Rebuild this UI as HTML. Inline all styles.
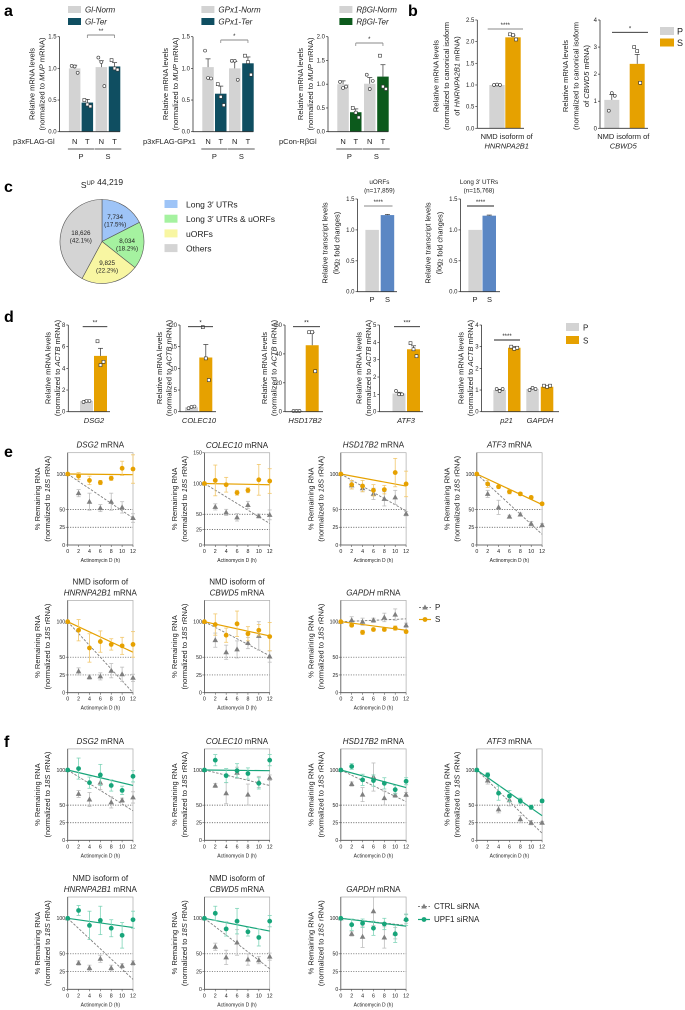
<!DOCTYPE html>
<html><head><meta charset="utf-8">
<style>
html,body{margin:0;padding:0;background:#fff;}
svg{display:block;font-family:"Liberation Sans",Arial,sans-serif;}
</style></head>
<body>
<svg id="fig" width="685" height="1010" viewBox="0 0 685 1010" xmlns="http://www.w3.org/2000/svg">
<rect width="685" height="1010" fill="#fff"/>
<g font-weight="bold" font-size="16" fill="#000">
<text x="4" y="16">a</text>
<text x="408" y="16">b</text>
<text x="4" y="192">c</text>
<text x="4" y="322">d</text>
<text x="4" y="457">e</text>
<text x="4" y="747">f</text>
</g>
</svg>
<script>
// ---------- data: panel a ----------
const a1Means = [1.0, 0.46, 1.02, 1.03];
const a1Errs = [0.05, 0.05, 0.1, 0.06];
const a1Dots = [[1.04,1.03,0.93],[0.5,0.43,0.4],[1.17,1.1,0.72],[1.13,1.0,0.98]];
const a2Means = [1.02, 0.6, 1.0, 1.08];
const a2Errs = [0.13, 0.12, 0.11, 0.1];
const a2Dots = [[1.28,0.85,0.84],[0.75,0.55,0.42],[1.12,1.12,0.82],[1.2,1.1,0.9]];
const a3Means = [1.0, 0.41, 1.01, 1.16];
const a3Errs = [0.07, 0.07, 0.13, 0.25];
const a3Dots = [[1.05,0.92,0.95],[0.5,0.4,0.3],[1.2,0.9,1.07],[1.6,0.95,0.9]];
const aCats = ['N','T','N','T'];
const aTicks15 = [0, 0.5, 1.0, 1.5];
const aTickLabels15 = ['0.0','0.5','1.0','1.5'];
const aTicks20 = [0, 0.5, 1.0, 1.5, 2.0];
const aTickLabels20 = ['0.0','0.5','1.0','1.5','2.0'];
// ---------- data: panel b ----------
const b1Means = [1.0, 2.1];
const b1Errs = [0.01, 0.05];
const b1Dots = [[1.0,1.01,1.0],[2.17,2.15,2.05]];
const b1Ticks = [0,0.5,1.0,1.5,2.0,2.5];
const b1TickLabels = ['0.0','0.5','1.0','1.5','2.0','2.5'];
const b2Means = [1.05, 2.38];
const b2Errs = [0.2, 0.35];
const b2Dots = [[0.65,1.3,1.2],[3.0,2.85,1.68]];
const b2Ticks = [0,1,2,3,4];
const b2TickLabels = ['0','1','2','3','4'];
// ---------- data: panel c ----------
const cPieLabels = ['Long 3\u2032 UTRs','Long 3\u2032 UTRs & uORFs','uORFs','Others'];
const cPieValues = [7734, 8034, 9825, 18626];
const cPieText = ['7,734','8,034','9,825','18,626'];
const cPiePct = ['(17.5%)','(18.2%)','(22.2%)','(42.1%)'];
const c1Means = [1.0, 1.24];
const c2Means = [1.0, 1.23];
const cErrs = [0, 0.01];
const cTicks = [0,0.5,1.0,1.5];
const cTickLabels = ['0.0','0.5','1.0','1.5'];
// ---------- data: panel d ----------
const d1Means = [1.0, 5.15]; const d1Errs = [0.05, 0.7]; const d1Dots = [[0.9,1.0,1.0],[6.5,4.3,4.6]];
const d2Means = [1.0, 12.5]; const d2Errs = [0.1, 3.0]; const d2Dots = [[0.8,1.1,1.2],[19.5,12.3,7.3]];
const d3Means = [0.5, 46]; const d3Errs = [0.1, 9]; const d3Dots = [[0.5,0.5,0.5],[55,55,28]];
const d4Means = [1.05, 3.6]; const d4Errs = [0.07, 0.2]; const d4Dots = [[1.2,1.0,1.0],[3.95,3.6,3.2]];
const d5Means = [1.0, 2.95, 1.05, 1.15]; const d5Errs = [0.03, 0.05, 0.03, 0.03];
const d5Dots = [[1.05,0.95,1.05],[3.0,2.9,2.95],[1.0,1.1,1.05],[1.2,1.15,1.2]];
const d1Ticks = [0,2,4,6,8]; const d2Ticks = [0,5,10,15,20]; const d3Ticks = [0,20,40,60];
const d4Ticks = [0,1,2,3,4,5]; const d5Ticks = [0,1,2,3,4];
// ---------- data: decay panels e / f ----------
const decayTimes = [0,2,4,6,8,10,12];
const decayXTicks = [0,2,4,6,8,10,12];
const eDsg2S = [100,97,91,88,94,108,107]; const eDsg2SErr = [0,5,6,3,3,10,20];
const eDsg2P = [100,73,61,52,61,53,38]; const eDsg2PErr = [0,5,12,5,12,8,6];
const eDsg2SFit = [100,99]; const eDsg2PFit = [100,38];
const eCol10S = [100,105,98,85,89,106,104]; const eCol10SErr = [0,25,12,4,4,25,20];
const eCol10P = [100,62,53,45,65,47,49]; const eCol10PErr = [0,5,5,6,6,3,8];
const eCol10SFit = [100,98]; const eCol10PFit = [100,35];
const eHsdS = [100,85,83,77,78,102,86]; const eHsdSErr = [0,6,8,8,6,20,18];
const eHsdP = [100,84,80,72,65,67,44]; const eHsdPErr = [0,5,5,8,10,10,3];
const eHsdSFit = [100,83]; const eHsdPFit = [100,48];
const eAtf3S = [100,86,82,75,72,67,58]; const eAtf3SErr = [0,5,2,3,2,2,2];
const eAtf3P = [100,72,53,40,43,30,28]; const eAtf3PErr = [0,5,10,2,2,3,2];
const eAtf3SFit = [100,57]; const eAtf3PFit = [100,15];
const eHnrS = [100,88,63,72,68,66,68]; const eHnrSErr = [0,15,20,15,8,12,18];
const eHnrP = [100,30,22,23,31,26,21]; const eHnrPErr = [0,5,3,5,10,10,5];
const eHnrSFit = [100,57]; const eHnrPFit = [100,0];
const eCbwS = [100,96,81,97,83,88,79]; const eCbwSErr = [0,15,10,18,10,8,20];
const eCbwP = [100,74,57,61,70,80,51]; const eCbwPErr = [0,10,10,12,8,20,8];
const eCbwSFit = [100,80]; const eCbwPFit = [100,52];
const eGapS = [100,95,85,89,89,91,86]; const eGapSErr = [0,2,3,2,2,3,2];
const eGapP = [100,102,100,102,106,110,95]; const eGapPErr = [0,5,5,3,6,8,3];
const eGapSFit = [100,88]; const eGapPFit = [100,104];
const fDsg2U = [100,102,82,93,78,71,91]; const fDsg2UErr = [0,15,8,15,8,6,8];
const fDsg2C = [100,66,58,82,54,57,61]; const fDsg2CErr = [0,5,10,10,8,3,8];
const fDsg2UFit = [100,78]; const fDsg2CFit = [100,42];
const fCol10U = [100,114,92,99,95,81,114]; const fCol10UErr = [0,8,10,10,8,8,8];
const fCol10C = [100,78,67,96,65,83,89]; const fCol10CErr = [0,3,15,8,15,8,4];
const fCol10UFit = [100,99]; const fCol10CFit = [100,78];
const fHsdU = [100,105,86,85,81,72,84]; const fHsdUErr = [0,4,8,8,8,6,5];
const fHsdC = [100,80,65,90,60,64,65]; const fHsdCErr = [0,3,10,20,10,3,3];
const fHsdUFit = [100,75]; const fHsdCFit = [100,55];
const fAtf3U = [100,93,67,63,56,47,56]; const fAtf3UErr = [0,3,10,8,4,3,2];
const fAtf3C = [100,85,44,57,30,25,25]; const fAtf3CErr = [0,5,5,8,5,3,2];
const fAtf3UFit = [100,35]; const fAtf3CFit = [100,10];
const fHnrU = [100,111,90,97,86,76,98]; const fHnrUErr = [0,7,20,20,12,18,12];
const fHnrC = [100,37,30,43,30,33,37]; const fHnrCErr = [0,3,4,5,4,3,3];
const fHnrUFit = [100,87]; const fHnrCFit = [100,14];
const fCbwU = [100,107,85,96,81,73,96]; const fCbwUErr = [0,10,10,18,6,12,8];
const fCbwC = [100,60,45,66,42,41,46]; const fCbwCErr = [0,5,10,18,8,5,5];
const fCbwUFit = [100,82]; const fCbwCFit = [100,29];
const fGapU = [100,91,93,86,92,78,98]; const fGapUErr = [0,8,6,10,8,12,8];
const fGapC = [100,78,74,110,73,79,99]; const fGapCErr = [0,3,15,20,15,8,6];
const fGapUFit = [100,89]; const fGapCFit = [100,90];

// ---------- helpers ----------
const NS = 'http://www.w3.org/2000/svg';
const svg = document.getElementById('fig');
function mk(tag, attrs, parent, name, inter) {
  const el = document.createElementNS(NS, tag);
  for (const k in attrs) el.setAttribute(k, attrs[k]);
  
  
  (parent || svg).appendChild(el);
  return el;
}
function txt(x, y, s, o, parent, name) {
  o = o || {};
  const el = mk('text', {x: x, y: y, 'font-size': o.size || 6, 'text-anchor': o.anchor || 'start', fill: o.fill || '#222'}, parent, name, false);
  if (o.italic) el.setAttribute('font-style', 'italic');
  if (o.rot) el.setAttribute('transform', 'rotate(-90 ' + x + ' ' + y + ')');
  if (Array.isArray(s)) {
    s.forEach(p => { const t = document.createElementNS(NS, 'tspan'); if (p.i) t.setAttribute('font-style', 'italic'); if (p.sub) {t.setAttribute('font-size', (o.size||6)*0.7); t.setAttribute('dy','1');} if (p.sup) {t.setAttribute('font-size', (o.size||6)*0.7); t.setAttribute('dy','-3');} t.textContent = p.t; el.appendChild(t); });
  } else el.textContent = s;
  return el;
}
function line(x1, y1, x2, y2, stroke, w, parent, name, dash) {
  const l = mk('line', {x1: x1, y1: y1, x2: x2, y2: y2, stroke: stroke, 'stroke-width': w}, parent, name, false);
  if (dash) l.setAttribute('stroke-dasharray', dash);
  return l;
}

// ---------- bar chart ----------
function barPanel(o) {
  const g = mk('g', {}, svg, o.name, false);
  const y = v => o.y0 - v / o.max * (o.y0 - o.yTop);
  o.means.forEach((m, i) => {
    const bx = o.barX[i], w = o.w;
    mk('rect', {x: bx, y: y(m), width: w, height: o.y0 - y(m), fill: o.colors[i]}, g, o.name + '-bar-' + i, true);
    if (o.errs && o.errs[i] > 0) {
      const cx = bx + w / 2;
      line(cx, y(m), cx, y(m + o.errs[i]), '#333', 0.7, g, 'error-bar');
      line(cx - 2.5, y(m + o.errs[i]), cx + 2.5, y(m + o.errs[i]), '#333', 0.7, g, 'error-cap');
    }
    if (o.dots) {
      const offs = [-3, 0, 3];
      o.dots[i].forEach((d, j) => {
        const cx = bx + w / 2 + offs[j];
        if (o.colors[i] === '#d3d3d3') mk('circle', {cx: cx, cy: y(d), r: 1.5, fill: '#fff', stroke: '#333', 'stroke-width': 0.6}, g, 'data-point', false);
        else mk('rect', {x: cx - 1.5, y: y(d) - 1.5, width: 3, height: 3, fill: '#fff', stroke: '#333', 'stroke-width': 0.6}, g, 'data-point', false);
      });
    }
  });
  line(o.ax, o.y0, o.ax, o.yTop, '#333', 0.8, g, 'y-axis');
  line(o.ax, o.y0, o.axEnd, o.y0, '#333', 0.8, g, 'x-axis');
  o.ticks.forEach((t, i) => {
    line(o.ax - 2, y(t), o.ax, y(t), '#333', 0.7, g, 'y-tick');
    txt(o.ax - 3, y(t) + 2, o.tickLabels[i], {size: 6, anchor: 'end'}, g, 'y-tick-label');
  });
  if (o.ytitle) o.ytitle.forEach((ln, i) => txt(o.ax + o.ytOff[i], o.ytY, ln, {size: 7.5, anchor: 'middle', rot: true}, g, 'y-axis-title'));
  if (o.sig) {
    const s = o.sig;
    line(s.x1, s.y, s.x2, s.y, s.gray ? '#888' : '#222', 0.9, g, 'significance-bracket');
    if (s.ticks) { line(s.x1, s.y, s.x1, s.y + 3, '#888', 0.8, g, 'bracket-tick'); line(s.x2, s.y, s.x2, s.y + 3, '#888', 0.8, g, 'bracket-tick'); }
    txt((s.x1 + s.x2) / 2, s.y - 2, s.label, {size: 6, anchor: 'middle'}, g, 'significance-label');
  }
  return g;
}
const GR = '#d3d3d3', OR = '#e6a100', TEAL = '#0f4e61', DG = '#0c5a1c', BL = '#5b87c4';

// ---------- panel a ----------
function aPanel(off, means, errs, dots, color, ticks, labels, max, label, legend, sigY) {
  const ax = 59.6 + off;
  const bx = [68.9 + off, 81.6 + off, 95.6 + off, 108.8 + off];
  barPanel({name: 'panel-a-chart-' + legend[0], ax: ax, axEnd: 120 + off, y0: 131.7, yTop: 36.7, max: max, ticks: ticks, tickLabels: labels,
    means: means, errs: errs, dots: dots, barX: bx, w: 11.5, colors: [GR, color, GR, color],
    ytitle: ['Relative mRNA levels', [{t: '(normalized to '}, {t: 'MUP', i: 1}, {t: ' mRNA)'}]], ytOff: [-25, -15], ytY: 84,
    sig: {x1: bx[1] + 5.75, x2: bx[3] + 5.75, y: sigY, label: max === 2 || off > 0 ? '*' : '**', ticks: true, gray: true}});
  mk('rect', {x: 68 + off + (off > 200 ? 3 : 0), y: 6, width: 13, height: 7, fill: GR}, svg, 'legend-swatch-norm', false);
  mk('rect', {x: 68 + off + (off > 200 ? 3 : 0), y: 18, width: 13, height: 7, fill: color}, svg, 'legend-swatch-ter', false);
  txt(85 + off + (off > 200 ? 3 : 0), 12.5, legend[1], {size: 8, italic: true}, svg, 'legend-label-norm');
  txt(85 + off + (off > 200 ? 3 : 0), 24.5, legend[2], {size: 8, italic: true}, svg, 'legend-label-ter');
  txt(label[1] , 144, label[0], {size: 7.5}, svg, 'construct-label');
  bx.forEach((b, i) => txt(b + 5.75, 144, aCats[i], {size: 7.5, anchor: 'middle'}, svg, 'condition-label'));
  line(bx[0] - 1, 149, bx[1] + 12.5, 149, '#222', 0.8, svg, 'group-line-p');
  line(bx[2] - 1, 149, bx[3] + 12.5, 149, '#222', 0.8, svg, 'group-line-s');
  txt((bx[0] + bx[1] + 11.5) / 2, 159, 'P', {size: 7.5, anchor: 'middle'}, svg, 'group-label-p');
  txt((bx[2] + bx[3] + 11.5) / 2, 159, 'S', {size: 7.5, anchor: 'middle'}, svg, 'group-label-s');
}
aPanel(0, a1Means, a1Errs, a1Dots, TEAL, aTicks15, aTickLabels15, 1.5, ['p3xFLAG-Gl', 13], ['gl', 'Gl-Norm', 'Gl-Ter'], 35);
aPanel(133.4, a2Means, a2Errs, a2Dots, TEAL, aTicks15, aTickLabels15, 1.5, ['p3xFLAG-GPx1', 143], ['gpx1', 'GPx1-Norm', 'GPx1-Ter'], 40);
aPanel(268.4, a3Means, a3Errs, a3Dots, DG, aTicks20, aTickLabels20, 2.0, ['pCon-R\u03b2Gl', 279], ['rbgl', 'R\u03b2Gl-Norm', 'R\u03b2Gl-Ter'], 43);

// ---------- panel b ----------
barPanel({name: 'panel-b-hnrnpa2b1', ax: 477.3, axEnd: 524, y0: 128.3, yTop: 20, max: 2.5, ticks: b1Ticks, tickLabels: b1TickLabels,
  means: b1Means, errs: b1Errs, dots: b1Dots, barX: [489.3, 505.3], w: 15.4, colors: [GR, OR],
  ytitle: ['Relative mRNA levels', '(normalized to canonical isoform', [{t: 'of '}, {t: 'HNRNPA2B1', i: 1}, {t: ' mRNA)'}]], ytOff: [-39, -28.5, -18], ytY: 76,
  sig: {x1: 487.7, x2: 523, y: 29, label: '****', gray: true}});
txt(506.7, 139, 'NMD isoform of', {size: 7.5, anchor: 'middle'}, svg, 'x-label');
txt(506.7, 148.5, 'HNRNPA2B1', {size: 7.5, anchor: 'middle', italic: true}, svg, 'x-label-gene');
barPanel({name: 'panel-b-cbwd5', ax: 600, axEnd: 648, y0: 128.3, yTop: 20, max: 4, ticks: b2Ticks, tickLabels: b2TickLabels,
  means: b2Means, errs: b2Errs, dots: b2Dots, barX: [604.3, 629.7], w: 15, colors: [GR, OR],
  ytitle: ['Relative mRNA levels', '(normalized to canonical isoform', [{t: 'of '}, {t: 'CBWD5', i: 1}, {t: ' mRNA)'}]], ytOff: [-32, -21.5, -11], ytY: 76,
  sig: {x1: 612, x2: 648, y: 32.3, label: '*'}});
txt(623.3, 139, 'NMD isoform of', {size: 7.5, anchor: 'middle'}, svg, 'x-label');
txt(623.3, 148.5, 'CBWD5', {size: 7.5, anchor: 'middle', italic: true}, svg, 'x-label-gene');
mk('rect', {x: 660, y: 27, width: 14, height: 8, fill: GR}, svg, 'legend-swatch-p', false);
mk('rect', {x: 660, y: 38.5, width: 14, height: 8, fill: OR}, svg, 'legend-swatch-s', false);
txt(677, 34.5, 'P', {size: 9}, svg, 'legend-label-p');
txt(677, 46, 'S', {size: 9}, svg, 'legend-label-s');

// ---------- panel c: pie ----------
(function () {
  const cx = 102, cy = 241.5, r = 42;
  const cols = ['#9ec4f7', '#a5f2a0', '#f8f6a2', '#d4d4d4'];
  const total = cPieValues.reduce((a, b) => a + b, 0);
  let a0 = -Math.PI / 2;
  const g = mk('g', {}, svg, 'pie-chart', false);
  cPieValues.forEach((v, i) => {
    const a1 = a0 + v / total * 2 * Math.PI;
    const large = a1 - a0 > Math.PI ? 1 : 0;
    const d = 'M' + cx + ',' + cy + ' L' + (cx + r * Math.cos(a0)) + ',' + (cy + r * Math.sin(a0)) + ' A' + r + ',' + r + ' 0 ' + large + ' 1 ' + (cx + r * Math.cos(a1)) + ',' + (cy + r * Math.sin(a1)) + ' Z';
    mk('path', {d: d, fill: cols[i], stroke: '#555', 'stroke-width': 0.6}, g, 'pie-slice-' + i, true);
    const am = (a0 + a1) / 2, lr = i === 3 ? 0.52 * r : 0.6 * r;
    txt(cx + lr * Math.cos(am), cy + lr * Math.sin(am) - 1, cPieText[i], {size: 6.3, anchor: 'middle'}, g, 'pie-value-label');
    txt(cx + lr * Math.cos(am), cy + lr * Math.sin(am) + 6.5, cPiePct[i], {size: 6.3, anchor: 'middle'}, g, 'pie-percent-label');
    mk('rect', {x: 164.5, y: 200 + i * 14.7, width: 13, height: 8, fill: cols[i]}, svg, 'pie-legend-swatch', false);
    txt(186, 207.5 + i * 14.7, cPieLabels[i], {size: 8.5}, svg, 'pie-legend-label');
    a0 = a1;
  });
  txt(cx, 188, [{t: 'S'}, {t: 'UP', sup: 1}, {t: ' 44,219', sub: 0}], {size: 8.5, anchor: 'middle'}, svg, 'pie-title');
})();
barPanel({name: 'panel-c-uorfs', ax: 357.5, axEnd: 397, y0: 291.7, yTop: 199, max: 1.5, ticks: cTicks, tickLabels: cTickLabels,
  means: c1Means, errs: cErrs, barX: [365.4, 380.7], w: 13.5, colors: [GR, BL],
  ytitle: ['Relative transcript levels', [{t: '(log'}, {t: '2', sub: 1}, {t: ' fold changes)'}]], ytOff: [-30, -19], ytY: 243,
  sig: {x1: 364, x2: 392.5, y: 206, label: '****', gray: true}});
txt(379.4, 184, 'uORFs', {size: 6.3, anchor: 'middle'}, svg, 'chart-title');
txt(379.4, 192.5, '(n=17,859)', {size: 6.3, anchor: 'middle'}, svg, 'chart-subtitle');
txt(372, 302, 'P', {size: 7.5, anchor: 'middle'}, svg, 'x-label'); txt(387.5, 302, 'S', {size: 7.5, anchor: 'middle'}, svg, 'x-label');
barPanel({name: 'panel-c-long-3utrs', ax: 460.5, axEnd: 500, y0: 291.7, yTop: 199, max: 1.5, ticks: cTicks, tickLabels: cTickLabels,
  means: c2Means, errs: cErrs, barX: [468.4, 482.5], w: 13.5, colors: [GR, BL],
  ytitle: ['Relative transcript levels', [{t: '(log'}, {t: '2', sub: 1}, {t: ' fold changes)'}]], ytOff: [-30, -19], ytY: 243,
  sig: {x1: 467, x2: 494, y: 206, label: '****'}});
txt(479, 184, 'Long 3\u2032 UTRs', {size: 6.3, anchor: 'middle'}, svg, 'chart-title');
txt(479, 192.5, '(n=15,768)', {size: 6.3, anchor: 'middle'}, svg, 'chart-subtitle');
txt(475, 302, 'P', {size: 7.5, anchor: 'middle'}, svg, 'x-label'); txt(489.5, 302, 'S', {size: 7.5, anchor: 'middle'}, svg, 'x-label');

// ---------- panel d ----------
function dPanel(name, ax, end, bx, w, means, errs, dots, ticks, max, sig, genes, cols) {
  barPanel({name: name, ax: ax, axEnd: end, y0: 411.7, yTop: 325, max: max, ticks: ticks, tickLabels: ticks.map(String),
    means: means, errs: errs, dots: dots, barX: bx, w: w, colors: cols || [GR, OR],
    ytitle: ['Relative mRNA levels', [{t: '(normalized to '}, {t: 'ACTB', i: 1}, {t: ' mRNA)'}]], ytOff: [-18, -8.5], ytY: 368, sig: sig});
  genes.forEach(gn => txt(gn[1], 423, gn[0], {size: 7.5, anchor: 'middle', italic: true}, svg, 'gene-label'));
}
dPanel('panel-d-dsg2', 68.3, 110, [80, 94], 13, d1Means, d1Errs, d1Dots, d1Ticks, 8, {x1: 82.7, x2: 107.3, y: 326.7, label: '**'}, [['DSG2', 94]]);
dPanel('panel-d-colec10', 180, 216, [185, 199.3], 13, d2Means, d2Errs, d2Dots, d2Ticks, 20, {x1: 188, x2: 213, y: 326.7, label: '*'}, [['COLEC10', 199]]);
dPanel('panel-d-hsd17b2', 285, 323, [290, 305.7], 13, d3Means, d3Errs, d3Dots, d3Ticks, 60, {x1: 293, x2: 320, y: 326.7, label: '**'}, [['HSD17B2', 305]]);
dPanel('panel-d-atf3', 379.4, 423, [392.5, 407], 13, d4Means, d4Errs, d4Dots, d4Ticks, 5, {x1: 394, x2: 420, y: 326.7, label: '***'}, [['ATF3', 406]]);
dPanel('panel-d-p21-gapdh', 481.6, 559, [493.4, 508, 526.3, 540.8], 12.5, d5Means, d5Errs, d5Dots, d5Ticks, 4, {x1: 494, x2: 520, y: 340, label: '****'}, [['p21', 506.5], ['GAPDH', 540]], [GR, OR, GR, OR]);
mk('rect', {x: 566, y: 323, width: 13, height: 8, fill: GR}, svg, 'legend-swatch-p', false);
mk('rect', {x: 566, y: 336, width: 13, height: 8, fill: OR}, svg, 'legend-swatch-s', false);
txt(583, 330.5, 'P', {size: 8}, svg, 'legend-label-p');
txt(583, 343.5, 'S', {size: 8}, svg, 'legend-label-s');

// ---------- decay panels ----------
function decay(o) {
  const g = mk('g', {}, svg, o.name, false);
  const X = t => o.x0 + t / 12 * 65.3;
  const Y = v => o.y0 - v * o.k;
  const yTop = Y(o.top);
  mk('rect', {x: o.x0, y: yTop, width: 65.3, height: o.y0 - yTop, fill: 'none', stroke: '#aaa', 'stroke-width': 0.7}, g, 'plot-frame', false);
  [25, 50].forEach(v => line(o.x0, Y(v), o.x0 + 65.3, Y(v), '#333', 0.7, g, 'reference-line-' + v, '1,1.5'));
  line(o.x0, o.y0, o.x0, yTop, '#555', 0.8, g, 'y-axis');
  line(o.x0, o.y0, o.x0 + 65.3, o.y0, '#555', 0.8, g, 'x-axis');
  o.yticks.forEach(v => { line(o.x0 - 2, Y(v), o.x0, Y(v), '#555', 0.6, g, 'y-tick'); txt(o.x0 - 2.5, Y(v) + 1.8, String(v), {size: 5.2, anchor: 'end'}, g, 'y-tick-label'); });
  decayXTicks.forEach(t => { line(X(t), o.y0, X(t), o.y0 + 2, '#555', 0.6, g, 'x-tick'); txt(X(t), o.y0 + 8, String(t), {size: 5.3, anchor: 'middle'}, g, 'x-tick-label'); });
  txt(o.x0 + 32.6, o.y0 + 17, 'Actinomycin D (h)', {size: 5, anchor: 'middle'}, g, 'x-axis-title');
  const ym = (o.y0 + yTop) / 2;
  txt(o.x0 - 27.5, ym, '% Remaining RNA', {size: 7.5, anchor: 'middle', rot: true}, g, 'y-axis-title');
  txt(o.x0 - 17.5, ym, [{t: '(normalized to '}, {t: '18S', i: 1}, {t: ' rRNA)'}], {size: 7.5, anchor: 'middle', rot: true}, g, 'y-axis-title');
  o.title.forEach((ln, i) => txt(o.x0 + 32.6, yTop - 5 - (o.title.length - 1 - i) * 11, ln, {size: 8, anchor: 'middle'}, g, 'chart-title'));
  o.series.forEach(s => {
    const sg = mk('g', {}, g, 'series-' + s.id, false);
    line(X(0), Y(s.fit[0]), X(12), Y(s.fit[1]), s.color, s.dashed ? 0.9 : 1.2, sg, 'fit-line', s.dashed ? '2.5,1.5' : null);
    s.vals.forEach((v, i) => {
      const cx = X(decayTimes[i]), e = s.errs[i];
      if (e > 0) {
        line(cx, Y(v - e), cx, Y(v + e), s.light, 0.8, sg, 'error-bar');
        line(cx - 2, Y(v + e), cx + 2, Y(v + e), s.light, 0.8, sg, 'error-cap');
        line(cx - 2, Y(v - e), cx + 2, Y(v - e), s.light, 0.8, sg, 'error-cap');
      }
      if (s.tri) mk('polygon', {points: cx + ',' + (Y(v) - 3) + ' ' + (cx - 2.8) + ',' + (Y(v) + 2) + ' ' + (cx + 2.8) + ',' + (Y(v) + 2), fill: s.color}, sg, 'data-point', false);
      else mk('circle', {cx: cx, cy: Y(v), r: 2.4, fill: s.color}, sg, 'data-point', false);
    });
  });
}
const GRY = '#7f7f7f', GRYL = '#bdbdbd', ORL = '#f2c76a', GN = '#17a57a', GNL = '#7fd4b8';
const X0 = [67.7, 204.4, 340.8, 476.8];
const T4 = [0, 25, 50, 100];
function eSeries(S, Se, Sf, P, Pe, Pf) {
  return [{id: 'p', vals: P, errs: Pe, fit: Pf, color: GRY, light: GRYL, tri: true, dashed: true},
          {id: 's', vals: S, errs: Se, fit: Sf, color: OR, light: ORL}];
}
function fSeries(U, Ue, Uf, C, Ce, Cf) {
  return [{id: 'ctrl', vals: C, errs: Ce, fit: Cf, color: GRY, light: GRYL, tri: true, dashed: true},
          {id: 'upf1', vals: U, errs: Ue, fit: Uf, color: GN, light: GNL}];
}
decay({name: 'panel-e-dsg2', x0: X0[0], y0: 545, k: 0.71, top: 130, yticks: T4, title: [[{t: 'DSG2', i: 1}, {t: ' mRNA'}]], series: eSeries(eDsg2S, eDsg2SErr, eDsg2SFit, eDsg2P, eDsg2PErr, eDsg2PFit)});
decay({name: 'panel-e-colec10', x0: X0[1], y0: 545, k: 0.615, top: 150, yticks: [0, 25, 50, 100, 150], title: [[{t: 'COLEC10', i: 1}, {t: ' mRNA'}]], series: eSeries(eCol10S, eCol10SErr, eCol10SFit, eCol10P, eCol10PErr, eCol10PFit)});
decay({name: 'panel-e-hsd17b2', x0: X0[2], y0: 545, k: 0.71, top: 130, yticks: T4, title: [[{t: 'HSD17B2', i: 1}, {t: ' mRNA'}]], series: eSeries(eHsdS, eHsdSErr, eHsdSFit, eHsdP, eHsdPErr, eHsdPFit)});
decay({name: 'panel-e-atf3', x0: X0[3], y0: 545, k: 0.71, top: 130, yticks: T4, title: [[{t: 'ATF3', i: 1}, {t: ' mRNA'}]], series: eSeries(eAtf3S, eAtf3SErr, eAtf3SFit, eAtf3P, eAtf3PErr, eAtf3PFit)});
decay({name: 'panel-e-hnrnpa2b1', x0: X0[0], y0: 692.7, k: 0.71, top: 130, yticks: T4, title: ['NMD isoform of', [{t: 'HNRNPA2B1', i: 1}, {t: ' mRNA'}]], series: eSeries(eHnrS, eHnrSErr, eHnrSFit, eHnrP, eHnrPErr, eHnrPFit)});
decay({name: 'panel-e-cbwd5', x0: X0[1], y0: 692.7, k: 0.71, top: 130, yticks: T4, title: ['NMD isoform of', [{t: 'CBWD5', i: 1}, {t: ' mRNA'}]], series: eSeries(eCbwS, eCbwSErr, eCbwSFit, eCbwP, eCbwPErr, eCbwPFit)});
decay({name: 'panel-e-gapdh', x0: X0[2], y0: 692.7, k: 0.71, top: 130, yticks: T4, title: [[{t: 'GAPDH', i: 1}, {t: ' mRNA'}]], series: eSeries(eGapS, eGapSErr, eGapSFit, eGapP, eGapPErr, eGapPFit)});
decay({name: 'panel-f-dsg2', x0: X0[0], y0: 840.3, k: 0.703, top: 130, yticks: T4, title: [[{t: 'DSG2', i: 1}, {t: ' mRNA'}]], series: fSeries(fDsg2U, fDsg2UErr, fDsg2UFit, fDsg2C, fDsg2CErr, fDsg2CFit)});
decay({name: 'panel-f-colec10', x0: X0[1], y0: 840.3, k: 0.703, top: 130, yticks: T4, title: [[{t: 'COLEC10', i: 1}, {t: ' mRNA'}]], series: fSeries(fCol10U, fCol10UErr, fCol10UFit, fCol10C, fCol10CErr, fCol10CFit)});
decay({name: 'panel-f-hsd17b2', x0: X0[2], y0: 840.3, k: 0.703, top: 130, yticks: T4, title: [[{t: 'HSD17B2', i: 1}, {t: ' mRNA'}]], series: fSeries(fHsdU, fHsdUErr, fHsdUFit, fHsdC, fHsdCErr, fHsdCFit)});
decay({name: 'panel-f-atf3', x0: X0[3], y0: 840.3, k: 0.703, top: 130, yticks: T4, title: [[{t: 'ATF3', i: 1}, {t: ' mRNA'}]], series: fSeries(fAtf3U, fAtf3UErr, fAtf3UFit, fAtf3C, fAtf3CErr, fAtf3CFit)});
decay({name: 'panel-f-hnrnpa2b1', x0: X0[0], y0: 989.3, k: 0.71, top: 130, yticks: T4, title: ['NMD isoform of', [{t: 'HNRNPA2B1', i: 1}, {t: ' mRNA'}]], series: fSeries(fHnrU, fHnrUErr, fHnrUFit, fHnrC, fHnrCErr, fHnrCFit)});
decay({name: 'panel-f-cbwd5', x0: X0[1], y0: 989.3, k: 0.71, top: 130, yticks: T4, title: ['NMD isoform of', [{t: 'CBWD5', i: 1}, {t: ' mRNA'}]], series: fSeries(fCbwU, fCbwUErr, fCbwUFit, fCbwC, fCbwCErr, fCbwCFit)});
decay({name: 'panel-f-gapdh', x0: X0[2], y0: 989.3, k: 0.71, top: 130, yticks: T4, title: [[{t: 'GAPDH', i: 1}, {t: ' mRNA'}]], series: fSeries(fGapU, fGapUErr, fGapUFit, fGapC, fGapCErr, fGapCFit)});

// decay legends
function decayLegend(x, y1, y2, lab1, lab2, c2, name) {
  const g = mk('g', {}, svg, name, false);
  line(x - 6, y1 - 2.5, x + 6, y1 - 2.5, GRY, 0.9, g, 'legend-line-1', '2,1.5');
  mk('polygon', {points: x + ',' + (y1 - 5.5) + ' ' + (x - 2.8) + ',' + (y1 - 0.5) + ' ' + (x + 2.8) + ',' + (y1 - 0.5), fill: GRY}, g, 'legend-marker-1', false);
  line(x - 6, y2 - 2.5, x + 6, y2 - 2.5, c2, 1.2, g, 'legend-line-2');
  mk('circle', {cx: x, cy: y2 - 2.5, r: 2.4, fill: c2}, g, 'legend-marker-2', false);
  txt(x + 10, y1, lab1, {size: 8}, g, 'legend-label-1');
  txt(x + 10, y2, lab2, {size: 8}, g, 'legend-label-2');
}
decayLegend(425, 610, 622, 'P', 'S', OR, 'legend-e');
decayLegend(424, 909, 922, 'CTRL siRNA', 'UPF1 siRNA', GN, 'legend-f');
</script>
</body></html>
